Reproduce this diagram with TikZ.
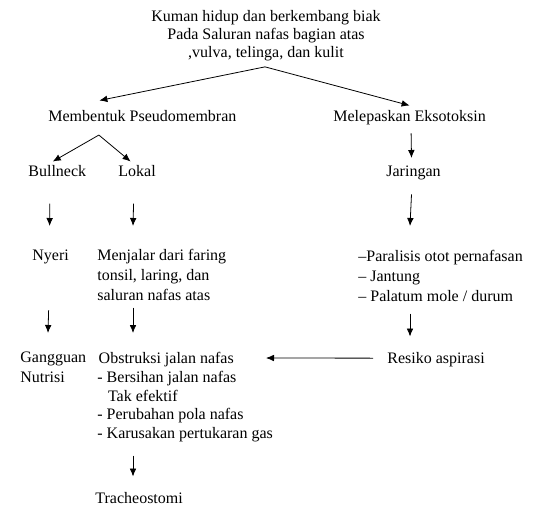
\documentclass[tikz,border=0pt]{standalone}
\usepackage{fontspec}
\setmainfont{Liberation Serif}
\usetikzlibrary{arrows.meta}

\begin{document}
\begin{tikzpicture}[x=0.75pt,y=-0.75pt,>={Latex[length=6pt,width=5pt]},line width=0.6pt,
  txt/.style={inner sep=0pt,align=left,font=\fontsize{12}{14.5}\selectfont}]
\useasboundingbox (0,0) rectangle (546,524);

% baris atas
\node[txt,align=center,anchor=north,font=\fontsize{12}{13.5}\selectfont] at (266,10) (Kuman)
  {Kuman hidup dan berkembang biak\\Pada Saluran nafas bagian atas\\,vulva, telinga, dan kulit};
\node[txt,anchor=base west] at (48,122) (Pseudo) {Membentuk Pseudomembran};
\node[txt,anchor=base west] at (333,122) (Eksotoksin) {Melepaskan Eksotoksin};

\node[txt,anchor=base west] at (28,177) (Bullneck) {Bullneck};
\node[txt,anchor=base west] at (118,177) (Lokal) {Lokal};
\node[txt,anchor=base west] at (386,177) (Jaringan) {Jaringan};

\node[txt,anchor=base west] at (32,260) (Nyeri) {Nyeri};
\node[txt,anchor=north west,font=\fontsize{12}{15}\selectfont] at (97,249) (Menjalar)
  {Menjalar dari faring\\tonsil, laring, dan\\saluran nafas atas};
\node[txt,anchor=north west,font=\fontsize{12}{15}\selectfont] at (358,250) (Paralisis)
  {–Paralisis otot pernafasan\\– Jantung\\– Palatum mole / durum};

\node[txt,anchor=north west,font=\fontsize{12}{15}\selectfont] at (20,352) (Gangguan) {Gangguan\\Nutrisi};
\node[txt,anchor=north west,font=\fontsize{12}{14}\selectfont] at (97,352) (Obstruksi)
  {\hspace*{1pt}Obstruksi jalan nafas\\- Bersihan jalan nafas\\\hspace*{8pt}Tak efektif\\- Perubahan pola nafas\\- Karusakan pertukaran gas};
\node[txt,anchor=base west] at (387,363) (Resiko) {Resiko aspirasi};
\node[txt,anchor=base west] at (95,503) (Trach) {Tracheostomi};

% panah
\coordinate (split) at ([shift={(-1,5.5)}]Kuman.south);
\draw[->] (split) -- ([shift={(-43,-10)}]Pseudo.north);
\draw[->] (split) -- ([shift={(0,-5)}]Eksotoksin.north);

\coordinate (splitB) at ([shift={(-43.5,12.5)}]Pseudo.south);
\draw[->] (splitB) -- ([shift={(-4.5,-4)}]Bullneck.north);
\draw[->] (splitB) -- ([shift={(-6.5,-4)}]Lokal.north);
\draw[->] ([shift={(1.5,7.5)}]Eksotoksin.south) -- ([shift={(-2,-8)}]Jaringan.north);

\draw[->] ([shift={(-7.5,26)}]Bullneck.south) -- ([shift={(-1,-23)}]Nyeri.north);
\draw[->] ([shift={(-3.5,26)}]Lokal.south) -- ([shift={(36,-23)}]Menjalar.north west);
\draw[->] ([shift={(-2,13.5)}]Jaringan.south) -- ([shift={(52,-24)}]Paralisis.north west);

\draw[->] ([shift={(-2,46.5)}]Nyeri.south) -- ([shift={(28,-19)}]Gangguan.north west);
\draw[->] ([shift={(36,6.5)}]Menjalar.south west) -- ([shift={(36,-19)}]Obstruksi.north west);
\draw[->] ([shift={(52,11.5)}]Paralisis.south west) -- ([shift={(23,-15)}]Resiko.north west);

\draw[->] ([shift={(-14,-1)}]Resiko.west) -- ([shift={(169,6)}]Obstruksi.north west);
\draw[->] ([shift={(36,13.5)}]Obstruksi.south west) -- ([shift={(38,-15)}]Trach.north west);
\end{tikzpicture}
\end{document}
